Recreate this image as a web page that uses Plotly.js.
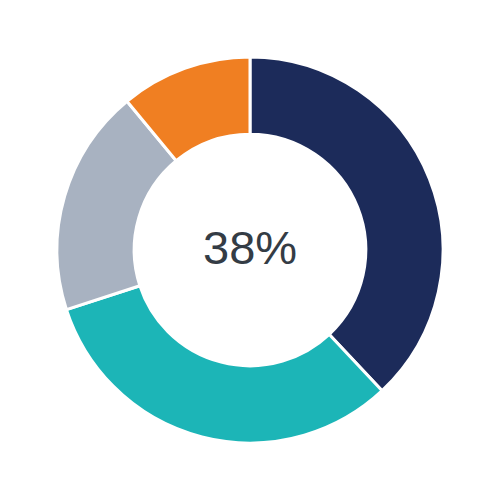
<!DOCTYPE html>
<html>
<head>
<meta charset="utf-8">
<script src="https://cdn.plot.ly/plotly-3.0.1.min.js"></script>
<style>
  html, body { margin: 0; padding: 0; background: #fff; }
  #chart { width: 500px; height: 500px; }
</style>
</head>
<body>
<div id="chart"></div>
<script>
const segmente = ["A", "B", "C", "D"];
const anteile = [38, 32, 19, 11];
const farben = ["#1c2b5a", "#1cb5b7", "#a8b2c1", "#f07f22"];
const mitteText = "38%";

const daten = [{
  type: "pie",
  labels: segmente,
  values: anteile,
  hole: 0.6,
  sort: false,
  direction: "clockwise",
  rotation: 0,
  textinfo: "none",
  hoverinfo: "label+percent",
  marker: {
    colors: farben,
    line: { color: "#ffffff", width: 3 },
  },
}];

const layout = {
  width: 500,
  height: 500,
  showlegend: false,
  margin: { t: 57, r: 57, b: 57, l: 57 },
  paper_bgcolor: "#ffffff",
  annotations: [{
    text: mitteText,
    x: 0.5,
    y: 0.5,
    xref: "paper",
    yref: "paper",
    yshift: 3,
    showarrow: false,
    font: { family: "Liberation Sans, Arial, sans-serif", size: 47, color: "#343c45" },
  }],
};

Plotly.newPlot("chart", daten, layout, { displayModeBar: false, staticPlot: true });
</script>
</body>
</html>
